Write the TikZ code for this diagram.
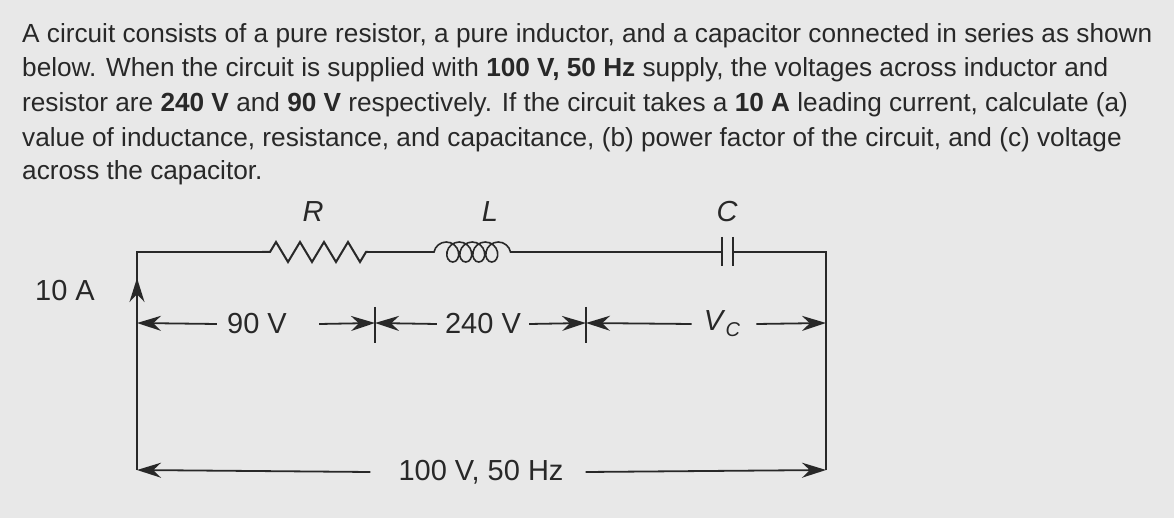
\documentclass[tikz,border=0pt]{standalone}
\usepackage{fontspec}
\setmainfont{Liberation Sans}
\usetikzlibrary{arrows.meta,decorations.pathmorphing}
\definecolor{bg}{RGB}{232,232,232}
\definecolor{ink}{RGB}{40,40,40}
\begin{document}
\begin{tikzpicture}[x=1pt,y=-1pt,
  txt/.style={anchor=west,inner sep=0pt,font=\fontsize{26.2}{30}\selectfont,text=ink},
  lbl/.style={inner sep=0pt,font=\fontsize{29}{34}\selectfont,text=ink},
  wire/.style={draw=ink,line width=2pt},
  dim/.style={draw=ink,line width=1.8pt,-{Stealth[length=24pt,width=15pt]}}]
\fill[bg] (0,0) rectangle (1174,518);
\useasboundingbox (0,0) rectangle (1174,518);
\node[txt] (t1) at (22,36) {A circuit consists of a pure resistor, a pure inductor, and a capacitor connected in series as shown};
\node[txt] (t2) at (22,70) {below. When the circuit is supplied with \textbf{100 V, 50 Hz} supply, the voltages across inductor and};
\node[txt] (t3) at (22,105) {resistor are \textbf{240 V} and \textbf{90 V} respectively. If the circuit takes a \textbf{10 A} leading current, calculate (a)};
\node[txt] (t4) at (22,140) {value of inductance, resistance, and capacitance, (b) power factor of the circuit, and (c) voltage};
\node[txt] (t5) at (22,173) {across the capacitor.};
% circuit corners
\coordinate (tl) at (137,252);
\coordinate (tr) at (826,252);
\coordinate (bl) at (137,470);
\coordinate (br) at (826,470);
\coordinate (r1) at (262,252); \coordinate (r2) at (368,252);
\coordinate (l1) at (430,252); \coordinate (l2) at (522,252);
\coordinate (c1) at (722,252); \coordinate (c2) at (733,252);
\draw[wire] (bl) -- (tl) -- (r1);
\draw[wire,decoration={zigzag,segment length=24pt,amplitude=10pt,pre length=8pt,post length=2pt},decorate] (r1) -- (r2);
\draw[wire] (r2) -- (l1);
\draw[wire,line width=1.6pt,decoration={coil,aspect=0.9,segment length=13pt,amplitude=10pt,pre length=4pt,post length=4pt},decorate] (l1) -- (l2);
\draw[wire] (l2) -- (c1);
\draw[wire] (c1 |- 0,237) -- (c1 |- 0,266);
\draw[wire] (c2 |- 0,237) -- (c2 |- 0,266);
\draw[wire] (c2) -- (tr) -- (br);
\node[lbl,font=\fontsize{29}{34}\selectfont\itshape] (R) at (313,212) {R};
\node[lbl,font=\fontsize{29}{34}\selectfont\itshape] (L) at (490,212) {L};
\node[lbl,font=\fontsize{29}{34}\selectfont\itshape] (C) at (727,212) {C};
% current arrow
\coordinate (ia) at (137,305);
\coordinate (ib) at (137,278);
\draw[dim] (ia) -- (ib);
\node[lbl] (I) at (65,291) {10 A};
% dimension row
\coordinate (d0) at (137,323); \coordinate (d1) at (375,323);
\coordinate (d2) at (586,323); \coordinate (d3) at (826,323);
\draw[draw=ink,line width=1.5pt] (375,307) -- (375,343);
\draw[draw=ink,line width=1.5pt] (586,307) -- (586,343);
\node[lbl] (v90) at (257,324) {90 V};
\node[lbl] (v240) at (483,324) {240 V};
\node[lbl] (vc) at (722,324) {\textit{V}\raisebox{-6pt}{\fontsize{20}{22}\selectfont\textit{C}}};
\draw[dim] (v90.west) ++(-10,0) -- (d0);
\draw[dim] (v90.east) ++(32,0) -- (d1);
\draw[dim] (v240.west) ++(-8,0) -- (d1);
\draw[dim] (v240.east) ++(8,0) -- (d2);
\draw[dim] (vc.west) ++(-12,0) -- (d2);
\draw[dim] (vc.east) ++(16,0) -- (d3);
% bottom
\node[lbl] (src) at (481,472) {100 V, 50 Hz};
\draw[dim] (src.west) ++(-28,0) -- (bl);
\draw[dim] (src.east) ++(22,0) -- (br);
\end{tikzpicture}
\end{document}
